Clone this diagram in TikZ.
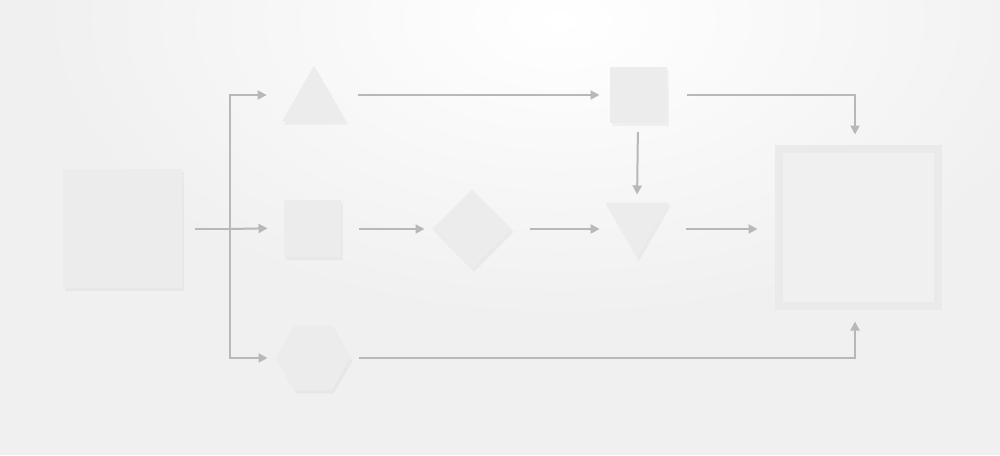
\documentclass[tikz,border=0pt]{standalone}
\usepackage{tikz}
\usetikzlibrary{positioning, arrows.meta, shapes.geometric, shadows}

\definecolor{bggray}{HTML}{F0F0F0}
\definecolor{shapegray}{HTML}{ECECEC}
\definecolor{framegray}{HTML}{EAEAEA}
\definecolor{linegray}{HTML}{B8B8B8}

\begin{document}
\begin{tikzpicture}[x=1pt, y=-1pt,
        block/.style={fill=shapegray, inner sep=0pt, outer sep=0pt,
            drop shadow={shadow xshift=2pt, shadow yshift=-3pt, opacity=0.08}},
        tri/.style={block, regular polygon, regular polygon sides=3, minimum size=74pt},
        link/.style={draw=linegray, line width=2pt},
        flow/.style={link, -{Triangle[length=9pt, width=9pt]}}]
    \useasboundingbox (0,0) rectangle (1000,455);
    \fill[bggray] (0,0) rectangle (1000,455);
    \begin{scope}
        \clip (0,0) rectangle (1000,455);
        \shade[inner color=white, outer color=bggray] (560,20) ellipse (520 and 300);
    \end{scope}

    % shapes
    \node[block, minimum size=119pt] (start) at (122,228) {};
    \node[tri] (up) at (314,103) {};
    \node[block, minimum size=57pt] (mid) at (312,228) {};
    \node[block, regular polygon, regular polygon sides=6, minimum size=75pt] (hex) at (313,358) {};
    \node[block, diamond, minimum width=79pt, minimum height=79pt] (dia) at (472,229) {};
    \node[block, minimum width=57pt, minimum height=56pt] (top) at (638,95) {};
    \node[tri, shape border rotate=180] (down) at (637,221) {};
    \node[draw=framegray, line width=8pt, fill=bggray, minimum width=159pt, minimum height=157pt,
        drop shadow={shadow xshift=2pt, shadow yshift=-3pt, opacity=0.08}] (frame) at (858,227) {};
    \coordinate (split) at (230,229);

    % connectors
    \draw[link, shorten <=13pt] (start.east |- split) -- (split);
    \draw[flow, shorten >=16pt] (split) -- (mid.west);
    \draw[flow, shorten >=26pt] (split) |- (up.west |- top);
    \draw[flow, shorten >=8pt] (split) |- (hex.west);
    \draw[flow, shorten <=23pt, shorten >=10pt] (up.east |- top) -- (top.west);
    \draw[flow, shorten <=20pt, shorten >=10pt] (top.east) -| ([xshift=-3pt]frame.north);
    \draw[flow, shorten <=9pt, shorten >=8pt] (top.south) -- (down.north);
    \draw[flow, shorten <=18pt, shorten >=8pt] (mid.east |- dia) -- (dia.west);
    \draw[flow, shorten <=18pt, shorten >=16pt] (dia.east) -- (down.west |- dia);
    \draw[flow, shorten <=28pt, shorten >=17pt] (down.east |- dia) -- (frame.west |- dia);
    \draw[flow, shorten <=8pt, shorten >=12pt] (hex.east) -| ([xshift=-3pt]frame.south);
\end{tikzpicture}
\end{document}
